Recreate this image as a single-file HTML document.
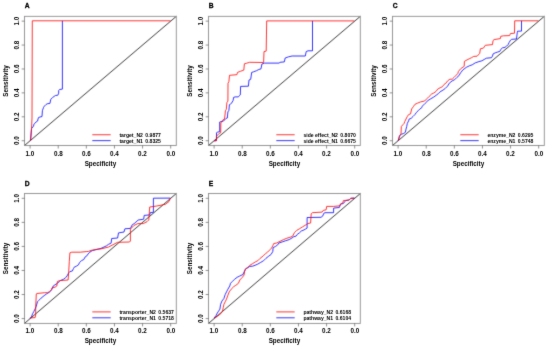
<!DOCTYPE html><html><head><meta charset="utf-8"><style>html,body{margin:0;padding:0;background:#fff;width:550px;height:348px;overflow:hidden}svg{display:block}text{font-family:"Liberation Sans",sans-serif}</style></head><body>
<svg width="550" height="348" viewBox="0 0 550 348">
<defs><filter id="bl" x="0" y="0" width="550" height="348" filterUnits="userSpaceOnUse" color-interpolation-filters="sRGB"><feConvolveMatrix order="3" kernelMatrix="0.0144 0.0912 0.0144 0.0912 0.5776 0.0912 0.0144 0.0912 0.0144" edgeMode="duplicate"/></filter><filter id="id" x="0" y="0" width="550" height="348" filterUnits="userSpaceOnUse" color-interpolation-filters="sRGB"><feConvolveMatrix order="3" kernelMatrix="0.0064 0.0672 0.0064 0.0672 0.7056 0.0672 0.0064 0.0672 0.0064" edgeMode="duplicate"/></filter></defs>
<rect width="550" height="348" fill="#fff"/>
<g filter="url(#bl)">
<g><line x1="24.5" y1="145.5" x2="176.3" y2="16.35" stroke="#333" stroke-width="0.95"/><polyline points="30.2,140.8 30.6,140.2 31.5,128.6 32,128.1 33.5,126.1 34,124.1 35,123.1 36,122 37.6,121 38,119 38.6,117.5 40,117 42,116.5 42.4,110.7 43.5,107.5 44.4,106.1 45.8,104.7 47.2,103.8 50,103.3 50.4,101 50.9,99.2 52.7,97.4 54.1,96.4 55.5,95.5 57.8,95.2 58.7,93.2 58.7,90.4 59.6,89.5 62.4,89.1 62.4,20.8" fill="none" stroke="#0000ff" stroke-width="0.8" stroke-linejoin="miter"/><polyline points="30.2,140.8 30.6,140.2 31.5,128.6 32,118 32.3,20.8 170.5,20.8" fill="none" stroke="#ff0000" stroke-width="0.8" stroke-linejoin="miter"/><rect x="24.5" y="16.35" width="151.8" height="129.15" fill="none" stroke="#8e8e8e" stroke-width="0.9"/><line x1="170.68" y1="145.5" x2="170.68" y2="148.5" stroke="#555" stroke-width="0.65"/><line x1="24.5" y1="140.72" x2="21.7" y2="140.72" stroke="#555" stroke-width="0.65"/><line x1="142.57" y1="145.5" x2="142.57" y2="148.5" stroke="#555" stroke-width="0.65"/><line x1="24.5" y1="116.8" x2="21.7" y2="116.8" stroke="#555" stroke-width="0.65"/><line x1="114.46" y1="145.5" x2="114.46" y2="148.5" stroke="#555" stroke-width="0.65"/><line x1="24.5" y1="92.88" x2="21.7" y2="92.88" stroke="#555" stroke-width="0.65"/><line x1="86.34" y1="145.5" x2="86.34" y2="148.5" stroke="#555" stroke-width="0.65"/><line x1="24.5" y1="68.97" x2="21.7" y2="68.97" stroke="#555" stroke-width="0.65"/><line x1="58.23" y1="145.5" x2="58.23" y2="148.5" stroke="#555" stroke-width="0.65"/><line x1="24.5" y1="45.05" x2="21.7" y2="45.05" stroke="#555" stroke-width="0.65"/><line x1="30.12" y1="145.5" x2="30.12" y2="148.5" stroke="#555" stroke-width="0.65"/><line x1="24.5" y1="21.13" x2="21.7" y2="21.13" stroke="#555" stroke-width="0.65"/><line x1="92.3" y1="134.75" x2="110.7" y2="134.75" stroke="#ff0000" stroke-width="0.8"/><line x1="92.3" y1="140.65" x2="110.7" y2="140.65" stroke="#0000ff" stroke-width="0.8"/></g>
<g><line x1="208.5" y1="145.5" x2="360.3" y2="16.35" stroke="#333" stroke-width="0.95"/><polyline points="214,140.8 216.5,140.5 216.5,132.9 217.3,132.1 219.7,131.7 219.7,122 220.5,121.6 223.3,121.2 226.1,118.4 227.3,118 227.9,111.9 228.9,110.4 229.4,104.7 230.5,104.2 231.5,103.1 233.1,100.5 233.6,97.4 235.1,96.9 238.2,96.9 240.3,94.9 240.6,86.4 248.4,86.2 249,80 250.7,79.3 251.7,72.4 253.6,71.8 256.5,70.7 258.8,69.5 261,68.8 261.9,64 264.5,63.1 279.1,63.1 280,62.3 284.3,61.9 285.2,58 288.6,56.8 292.1,56 305.3,56 306.2,51.6 308,50.8 312.5,50.8 312.5,20.9" fill="none" stroke="#0000ff" stroke-width="0.8" stroke-linejoin="miter"/><polyline points="214,140.8 216.3,140.8 216.5,136.2 217.3,135.4 219.3,133.3 220.7,132.8 220.9,122.5 222.1,121.6 223,119.8 224.5,119.2 225,115 225.4,110.9 226.3,109.3 226.9,102.6 227.9,101.1 228,83.3 228.9,81.6 229.5,75.3 236.9,74.7 237.5,72.4 240.4,71.3 243.8,70.1 244.4,63.8 246.7,63.2 249.6,62.3 263.6,62.5 264,51.6 266.2,51.1 266.7,20.9 354.4,20.9" fill="none" stroke="#ff0000" stroke-width="0.8" stroke-linejoin="miter"/><rect x="208.5" y="16.35" width="151.8" height="129.15" fill="none" stroke="#8e8e8e" stroke-width="0.9"/><line x1="354.68" y1="145.5" x2="354.68" y2="148.5" stroke="#555" stroke-width="0.65"/><line x1="208.5" y1="140.72" x2="205.7" y2="140.72" stroke="#555" stroke-width="0.65"/><line x1="326.57" y1="145.5" x2="326.57" y2="148.5" stroke="#555" stroke-width="0.65"/><line x1="208.5" y1="116.8" x2="205.7" y2="116.8" stroke="#555" stroke-width="0.65"/><line x1="298.46" y1="145.5" x2="298.46" y2="148.5" stroke="#555" stroke-width="0.65"/><line x1="208.5" y1="92.88" x2="205.7" y2="92.88" stroke="#555" stroke-width="0.65"/><line x1="270.34" y1="145.5" x2="270.34" y2="148.5" stroke="#555" stroke-width="0.65"/><line x1="208.5" y1="68.97" x2="205.7" y2="68.97" stroke="#555" stroke-width="0.65"/><line x1="242.23" y1="145.5" x2="242.23" y2="148.5" stroke="#555" stroke-width="0.65"/><line x1="208.5" y1="45.05" x2="205.7" y2="45.05" stroke="#555" stroke-width="0.65"/><line x1="214.12" y1="145.5" x2="214.12" y2="148.5" stroke="#555" stroke-width="0.65"/><line x1="208.5" y1="21.13" x2="205.7" y2="21.13" stroke="#555" stroke-width="0.65"/><line x1="276.3" y1="134.75" x2="294.7" y2="134.75" stroke="#ff0000" stroke-width="0.8"/><line x1="276.3" y1="140.65" x2="294.7" y2="140.65" stroke="#0000ff" stroke-width="0.8"/></g>
<g><line x1="392.5" y1="145.5" x2="544.3" y2="16.35" stroke="#333" stroke-width="0.95"/><polyline points="398,140.8 399.1,138 399.7,136.1 400.3,134.8 401.6,134.2 403.5,133.5 405.4,132.3 406,129.1 406.7,126.6 407.3,123.4 408.6,120.9 409.2,119 411.1,118.4 413,116.5 414.9,114.6 416.2,112.7 418.1,110.8 420,108.9 421.8,107.6 422.3,106.2 425.2,103.3 428,100.5 430.9,98.7 433.8,97 436.1,95.3 438.4,93.6 440.1,91.8 443,90.1 445.3,88.4 447.6,86.1 449.3,83.2 452.2,80.9 454.5,79.8 456.8,77.5 458.9,75.7 460.6,72.8 462.9,69.9 466.2,67.4 469.2,65.9 472.2,64.8 475.2,62.9 478.9,61.6 481.9,60.8 484.1,59.5 486.4,58.2 491.5,57.7 492.5,56 493.1,53.9 495.1,52.9 497.7,52 499.8,51.4 500.8,49.4 502.4,47.9 505,47.3 506.5,46.2 508.1,44.6 509.1,42.5 510.6,40.1 511.7,39.3 516.5,39 517.3,32.2 517.5,31.2 521.5,31.1 521.5,20.8" fill="none" stroke="#0000ff" stroke-width="0.8" stroke-linejoin="miter"/><polyline points="398,140.8 398.4,140.5 399.1,136.7 399.7,135.4 401,134.2 401.3,126.6 402.9,124.7 404.1,123.4 404.8,121.5 406,119 407.3,116.5 408.6,114.6 410.5,113.9 411.7,108.9 413.6,106.3 414.9,104.4 417.4,103.2 420.6,101.9 424.6,101 426.9,98.7 429.2,96.4 431.5,94.1 433.8,93 436.1,91.3 437.8,89 440.1,87.8 442.4,86.7 444.1,84.4 445.9,83.2 447.6,80.9 449.9,79.2 452.2,79.2 453.9,77.5 456.2,75.2 457.9,73.4 458.3,71.6 460.6,68.8 464.2,66.3 464.4,61.4 467,59.9 469.2,58.8 471.5,57.7 473.7,56.4 477.1,56.2 479.7,53.4 480.4,48.8 483.4,48.1 485.3,45.3 492.5,44.6 493,40.6 494.1,39.6 500.3,38.6 500.8,36.3 503.4,35.8 509.6,35.6 510.4,33.6 514.5,33.2 514.7,20.8 538.4,20.8" fill="none" stroke="#ff0000" stroke-width="0.8" stroke-linejoin="miter"/><rect x="392.5" y="16.35" width="151.8" height="129.15" fill="none" stroke="#8e8e8e" stroke-width="0.9"/><line x1="538.68" y1="145.5" x2="538.68" y2="148.5" stroke="#555" stroke-width="0.65"/><line x1="392.5" y1="140.72" x2="389.7" y2="140.72" stroke="#555" stroke-width="0.65"/><line x1="510.57" y1="145.5" x2="510.57" y2="148.5" stroke="#555" stroke-width="0.65"/><line x1="392.5" y1="116.8" x2="389.7" y2="116.8" stroke="#555" stroke-width="0.65"/><line x1="482.46" y1="145.5" x2="482.46" y2="148.5" stroke="#555" stroke-width="0.65"/><line x1="392.5" y1="92.88" x2="389.7" y2="92.88" stroke="#555" stroke-width="0.65"/><line x1="454.34" y1="145.5" x2="454.34" y2="148.5" stroke="#555" stroke-width="0.65"/><line x1="392.5" y1="68.97" x2="389.7" y2="68.97" stroke="#555" stroke-width="0.65"/><line x1="426.23" y1="145.5" x2="426.23" y2="148.5" stroke="#555" stroke-width="0.65"/><line x1="392.5" y1="45.05" x2="389.7" y2="45.05" stroke="#555" stroke-width="0.65"/><line x1="398.12" y1="145.5" x2="398.12" y2="148.5" stroke="#555" stroke-width="0.65"/><line x1="392.5" y1="21.13" x2="389.7" y2="21.13" stroke="#555" stroke-width="0.65"/><line x1="460.3" y1="134.75" x2="478.7" y2="134.75" stroke="#ff0000" stroke-width="0.8"/><line x1="460.3" y1="140.65" x2="478.7" y2="140.65" stroke="#0000ff" stroke-width="0.8"/></g>
<g><line x1="24.5" y1="323.4" x2="176.3" y2="193.5" stroke="#333" stroke-width="0.95"/><polyline points="30,318.4 31.4,316.8 32.6,313.8 33.9,311.4 35.1,309 36.3,306 37.5,301.7 38.7,300.5 41.1,298.1 44.1,295.7 46.5,293.9 49.5,292.1 50.8,290.9 52,289.1 53.2,286 55,284.8 57.8,283 60.2,280.6 63.3,279.4 65.7,277.6 67.5,275.2 68.7,272.8 69.9,271.6 72.3,271 73.5,268.5 74.1,267.3 76.5,266.1 78.4,264.9 79.6,262.5 81.4,260.7 83.8,259.5 85,257.1 86.8,255.9 88,254 89.8,252.2 92.3,250.6 101,248.4 106.5,245.8 108.4,244.4 111.1,243.1 111.7,238.5 117.6,238 118.5,232.9 124,232 124.9,228.8 130.4,228.4 132.3,224.7 134.1,223.7 138.2,220 143.7,219.2 144.2,215.4 149.7,214.9 150.3,212.6 153.4,212.3 153.4,198.2 170.4,198.1" fill="none" stroke="#0000ff" stroke-width="0.8" stroke-linejoin="miter"/><polyline points="30,318 35.1,317.6 35.7,315 35.7,306.6 36.3,293.9 36.9,293.5 44.7,292.7 47.7,292.7 49.5,291.5 51.4,289.7 52,287.9 55,287.2 56.8,286 57.4,281.5 59.6,280.6 63.3,280.4 68.1,280 68.7,272.2 69.3,261.3 69.9,252.8 71.7,252.2 80.2,252.2 86.2,251.6 88.6,251.4 91,250.4 96.6,249.3 101,248.9 108.4,247.1 113,244.7 117.6,242.3 129.5,242 130.4,241 130.4,229.1 134.1,225.4 137.8,223.6 143.3,223.6 147,221.7 148.8,219.9 149.7,207 156.2,206.1 165.4,204.3 169,201.5 170.4,198.1" fill="none" stroke="#ff0000" stroke-width="0.8" stroke-linejoin="miter"/><rect x="24.5" y="193.5" width="151.8" height="129.9" fill="none" stroke="#8e8e8e" stroke-width="0.9"/><line x1="170.68" y1="323.4" x2="170.68" y2="326.4" stroke="#555" stroke-width="0.65"/><line x1="24.5" y1="318.59" x2="21.7" y2="318.59" stroke="#555" stroke-width="0.65"/><line x1="142.57" y1="323.4" x2="142.57" y2="326.4" stroke="#555" stroke-width="0.65"/><line x1="24.5" y1="294.53" x2="21.7" y2="294.53" stroke="#555" stroke-width="0.65"/><line x1="114.46" y1="323.4" x2="114.46" y2="326.4" stroke="#555" stroke-width="0.65"/><line x1="24.5" y1="270.48" x2="21.7" y2="270.48" stroke="#555" stroke-width="0.65"/><line x1="86.34" y1="323.4" x2="86.34" y2="326.4" stroke="#555" stroke-width="0.65"/><line x1="24.5" y1="246.42" x2="21.7" y2="246.42" stroke="#555" stroke-width="0.65"/><line x1="58.23" y1="323.4" x2="58.23" y2="326.4" stroke="#555" stroke-width="0.65"/><line x1="24.5" y1="222.37" x2="21.7" y2="222.37" stroke="#555" stroke-width="0.65"/><line x1="30.12" y1="323.4" x2="30.12" y2="326.4" stroke="#555" stroke-width="0.65"/><line x1="24.5" y1="198.31" x2="21.7" y2="198.31" stroke="#555" stroke-width="0.65"/><line x1="92.3" y1="311.9" x2="110.7" y2="311.9" stroke="#ff0000" stroke-width="0.8"/><line x1="92.3" y1="317.8" x2="110.7" y2="317.8" stroke="#0000ff" stroke-width="0.8"/></g>
<g><line x1="208.5" y1="323.4" x2="360.3" y2="193.5" stroke="#333" stroke-width="0.95"/><polyline points="214,318.1 216,315.7 217.3,313 218.6,311.1 219.9,309.1 220.6,304.4 221.9,301.1 223.9,298.5 225.2,294.5 226.5,291.9 227.9,289.2 229.8,285.9 230.5,283.3 232.5,281.3 234.5,279.3 237.1,277.3 239.4,276.2 242.9,274.5 244.6,271 245.8,268.7 248.1,267.6 249.8,266.4 252.7,266.2 255,265.3 257.8,264.1 260.7,262.4 263.6,260.7 265.9,258.4 268.8,256.1 271.1,254.4 272.8,251.5 273.1,247.6 275.4,246.5 277.7,244.8 278.9,243 282.3,241.9 285.8,240.7 289.2,239.6 292.1,237.9 293.8,236.7 296.1,236.1 297.3,234.4 299.6,232.7 301.3,231 303,230.4 305.3,229.2 307.1,228.1 307.1,217.5 321,217.3 322.7,216.1 323.8,213.3 325,212.7 333.6,212.7 333.6,208.1 339.3,207.5 340.5,204.1 343.4,203.5 345.1,201.3 345.7,200.6 349.1,200 350.8,198.3 354.4,198.1" fill="none" stroke="#0000ff" stroke-width="0.8" stroke-linejoin="miter"/><polyline points="214,318.1 215.3,317.7 217.3,316.3 219.3,315 221.2,313 222.6,311.1 223.2,307.7 223.9,304.4 225.2,301.8 226.5,299.1 227.9,295.2 229.2,291.9 231.2,289.2 233.8,286.6 235.8,285.3 238.4,283.3 239.8,280 241.7,278 242.3,277.4 244,275.1 244.6,271.6 245.2,269.3 247.5,267.6 249.8,265.3 252.7,263.6 255.5,261.8 257.8,260.7 260.1,258.4 263,256.1 265.3,253.8 267.6,252.1 269.9,249.8 271.6,248 272.8,245.7 273.7,243.6 276.6,243 280,241.3 283.5,239.6 286.9,238.2 290.4,237.1 292.7,236.1 294.4,232.7 296.7,230.4 299.6,228.7 302.5,226.9 305.3,225.2 307.7,223.6 310.6,223 311.2,213.8 312.3,212.7 322.1,212.1 323.2,210.4 326.1,209.8 326.7,206.4 333.6,206.4 339.9,205.8 340.5,204.1 342.8,202.9 343.4,200.6 349.1,200 350.8,198.3 354.4,198.1" fill="none" stroke="#ff0000" stroke-width="0.8" stroke-linejoin="miter"/><rect x="208.5" y="193.5" width="151.8" height="129.9" fill="none" stroke="#8e8e8e" stroke-width="0.9"/><line x1="354.68" y1="323.4" x2="354.68" y2="326.4" stroke="#555" stroke-width="0.65"/><line x1="208.5" y1="318.59" x2="205.7" y2="318.59" stroke="#555" stroke-width="0.65"/><line x1="326.57" y1="323.4" x2="326.57" y2="326.4" stroke="#555" stroke-width="0.65"/><line x1="208.5" y1="294.53" x2="205.7" y2="294.53" stroke="#555" stroke-width="0.65"/><line x1="298.46" y1="323.4" x2="298.46" y2="326.4" stroke="#555" stroke-width="0.65"/><line x1="208.5" y1="270.48" x2="205.7" y2="270.48" stroke="#555" stroke-width="0.65"/><line x1="270.34" y1="323.4" x2="270.34" y2="326.4" stroke="#555" stroke-width="0.65"/><line x1="208.5" y1="246.42" x2="205.7" y2="246.42" stroke="#555" stroke-width="0.65"/><line x1="242.23" y1="323.4" x2="242.23" y2="326.4" stroke="#555" stroke-width="0.65"/><line x1="208.5" y1="222.37" x2="205.7" y2="222.37" stroke="#555" stroke-width="0.65"/><line x1="214.12" y1="323.4" x2="214.12" y2="326.4" stroke="#555" stroke-width="0.65"/><line x1="208.5" y1="198.31" x2="205.7" y2="198.31" stroke="#555" stroke-width="0.65"/><line x1="276.3" y1="311.9" x2="294.7" y2="311.9" stroke="#ff0000" stroke-width="0.8"/><line x1="276.3" y1="317.8" x2="294.7" y2="317.8" stroke="#0000ff" stroke-width="0.8"/></g>
</g>
<g filter="url(#id)"><text x="166.5" y="155.5" font-size="6.3" font-weight="bold" fill="#000">0.0</text><text transform="translate(18.6,140.72) rotate(-90)" font-size="6.3" font-weight="bold" text-anchor="middle" fill="#000">0.0</text><text x="138" y="155.5" font-size="6.3" font-weight="bold" fill="#000">0.2</text><text transform="translate(18.6,116.8) rotate(-90)" font-size="6.3" font-weight="bold" text-anchor="middle" fill="#000">0.2</text><text x="110" y="155.5" font-size="6.3" font-weight="bold" fill="#000">0.4</text><text transform="translate(18.6,92.88) rotate(-90)" font-size="6.3" font-weight="bold" text-anchor="middle" fill="#000">0.4</text><text x="82" y="155.5" font-size="6.3" font-weight="bold" fill="#000">0.6</text><text transform="translate(18.6,68.97) rotate(-90)" font-size="6.3" font-weight="bold" text-anchor="middle" fill="#000">0.6</text><text x="54" y="155.5" font-size="6.3" font-weight="bold" fill="#000">0.8</text><text transform="translate(18.6,45.05) rotate(-90)" font-size="6.3" font-weight="bold" text-anchor="middle" fill="#000">0.8</text><text x="25.5" y="155.5" font-size="6.3" font-weight="bold" fill="#000">1.0</text><text transform="translate(18.6,21.13) rotate(-90)" font-size="6.3" font-weight="bold" text-anchor="middle" fill="#000">1.0</text><text x="100.4" y="165.8" font-size="6.3" font-weight="bold" text-anchor="middle" fill="#000">Specificity</text><text transform="translate(8.1,80.92) rotate(-90)" font-size="6.3" font-weight="bold" text-anchor="middle" fill="#000">Sensitivity</text><text x="24.7" y="7.85" font-size="6.7" font-weight="bold" fill="#000" stroke="#000" stroke-width="0.3">A</text><text x="119.4" y="137.15" font-size="5.1" font-weight="bold" fill="#000" xml:space="preserve">target_N2 <tspan dx="1.0">0.9877</tspan></text><text x="119.4" y="143.05" font-size="5.1" font-weight="bold" fill="#000" xml:space="preserve">target_N1 <tspan dx="1.0">0.8325</tspan></text><text x="350.5" y="155.5" font-size="6.3" font-weight="bold" fill="#000">0.0</text><text transform="translate(202.6,140.72) rotate(-90)" font-size="6.3" font-weight="bold" text-anchor="middle" fill="#000">0.0</text><text x="322" y="155.5" font-size="6.3" font-weight="bold" fill="#000">0.2</text><text transform="translate(202.6,116.8) rotate(-90)" font-size="6.3" font-weight="bold" text-anchor="middle" fill="#000">0.2</text><text x="294" y="155.5" font-size="6.3" font-weight="bold" fill="#000">0.4</text><text transform="translate(202.6,92.88) rotate(-90)" font-size="6.3" font-weight="bold" text-anchor="middle" fill="#000">0.4</text><text x="266" y="155.5" font-size="6.3" font-weight="bold" fill="#000">0.6</text><text transform="translate(202.6,68.97) rotate(-90)" font-size="6.3" font-weight="bold" text-anchor="middle" fill="#000">0.6</text><text x="238" y="155.5" font-size="6.3" font-weight="bold" fill="#000">0.8</text><text transform="translate(202.6,45.05) rotate(-90)" font-size="6.3" font-weight="bold" text-anchor="middle" fill="#000">0.8</text><text x="209.5" y="155.5" font-size="6.3" font-weight="bold" fill="#000">1.0</text><text transform="translate(202.6,21.13) rotate(-90)" font-size="6.3" font-weight="bold" text-anchor="middle" fill="#000">1.0</text><text x="284.4" y="165.8" font-size="6.3" font-weight="bold" text-anchor="middle" fill="#000">Specificity</text><text transform="translate(192.1,80.92) rotate(-90)" font-size="6.3" font-weight="bold" text-anchor="middle" fill="#000">Sensitivity</text><text x="208.7" y="7.85" font-size="6.7" font-weight="bold" fill="#000" stroke="#000" stroke-width="0.3">B</text><text x="303.4" y="137.15" font-size="5.1" font-weight="bold" fill="#000" xml:space="preserve">side effect_N2 <tspan dx="1.0">0.8070</tspan></text><text x="303.4" y="143.05" font-size="5.1" font-weight="bold" fill="#000" xml:space="preserve">side effect_N1 <tspan dx="1.0">0.6675</tspan></text><text x="534.5" y="155.5" font-size="6.3" font-weight="bold" fill="#000">0.0</text><text transform="translate(386.6,140.72) rotate(-90)" font-size="6.3" font-weight="bold" text-anchor="middle" fill="#000">0.0</text><text x="506" y="155.5" font-size="6.3" font-weight="bold" fill="#000">0.2</text><text transform="translate(386.6,116.8) rotate(-90)" font-size="6.3" font-weight="bold" text-anchor="middle" fill="#000">0.2</text><text x="478" y="155.5" font-size="6.3" font-weight="bold" fill="#000">0.4</text><text transform="translate(386.6,92.88) rotate(-90)" font-size="6.3" font-weight="bold" text-anchor="middle" fill="#000">0.4</text><text x="450" y="155.5" font-size="6.3" font-weight="bold" fill="#000">0.6</text><text transform="translate(386.6,68.97) rotate(-90)" font-size="6.3" font-weight="bold" text-anchor="middle" fill="#000">0.6</text><text x="422" y="155.5" font-size="6.3" font-weight="bold" fill="#000">0.8</text><text transform="translate(386.6,45.05) rotate(-90)" font-size="6.3" font-weight="bold" text-anchor="middle" fill="#000">0.8</text><text x="393.5" y="155.5" font-size="6.3" font-weight="bold" fill="#000">1.0</text><text transform="translate(386.6,21.13) rotate(-90)" font-size="6.3" font-weight="bold" text-anchor="middle" fill="#000">1.0</text><text x="468.4" y="165.8" font-size="6.3" font-weight="bold" text-anchor="middle" fill="#000">Specificity</text><text transform="translate(376.1,80.92) rotate(-90)" font-size="6.3" font-weight="bold" text-anchor="middle" fill="#000">Sensitivity</text><text x="392.7" y="7.85" font-size="6.7" font-weight="bold" fill="#000" stroke="#000" stroke-width="0.3">C</text><text x="487.4" y="137.15" font-size="5.1" font-weight="bold" fill="#000" xml:space="preserve">enzyme_N2 <tspan dx="1.0">0.6295</tspan></text><text x="487.4" y="143.05" font-size="5.1" font-weight="bold" fill="#000" xml:space="preserve">enzyme_N1 <tspan dx="1.0">0.5748</tspan></text><text x="166.5" y="333.4" font-size="6.3" font-weight="bold" fill="#000">0.0</text><text transform="translate(18.6,318.59) rotate(-90)" font-size="6.3" font-weight="bold" text-anchor="middle" fill="#000">0.0</text><text x="138" y="333.4" font-size="6.3" font-weight="bold" fill="#000">0.2</text><text transform="translate(18.6,294.53) rotate(-90)" font-size="6.3" font-weight="bold" text-anchor="middle" fill="#000">0.2</text><text x="110" y="333.4" font-size="6.3" font-weight="bold" fill="#000">0.4</text><text transform="translate(18.6,270.48) rotate(-90)" font-size="6.3" font-weight="bold" text-anchor="middle" fill="#000">0.4</text><text x="82" y="333.4" font-size="6.3" font-weight="bold" fill="#000">0.6</text><text transform="translate(18.6,246.42) rotate(-90)" font-size="6.3" font-weight="bold" text-anchor="middle" fill="#000">0.6</text><text x="54" y="333.4" font-size="6.3" font-weight="bold" fill="#000">0.8</text><text transform="translate(18.6,222.37) rotate(-90)" font-size="6.3" font-weight="bold" text-anchor="middle" fill="#000">0.8</text><text x="25.5" y="333.4" font-size="6.3" font-weight="bold" fill="#000">1.0</text><text transform="translate(18.6,198.31) rotate(-90)" font-size="6.3" font-weight="bold" text-anchor="middle" fill="#000">1.0</text><text x="100.4" y="342.7" font-size="6.3" font-weight="bold" text-anchor="middle" fill="#000">Specificity</text><text transform="translate(8.1,258.45) rotate(-90)" font-size="6.3" font-weight="bold" text-anchor="middle" fill="#000">Sensitivity</text><text x="24.7" y="185.6" font-size="6.7" font-weight="bold" fill="#000" stroke="#000" stroke-width="0.3">D</text><text x="119.4" y="314.3" font-size="5.1" font-weight="bold" fill="#000" xml:space="preserve">transporter_N2 <tspan dx="1.0">0.5637</tspan></text><text x="119.4" y="320.2" font-size="5.1" font-weight="bold" fill="#000" xml:space="preserve">transporter_N1 <tspan dx="1.0">0.5718</tspan></text><text x="350.5" y="333.4" font-size="6.3" font-weight="bold" fill="#000">0.0</text><text transform="translate(202.6,318.59) rotate(-90)" font-size="6.3" font-weight="bold" text-anchor="middle" fill="#000">0.0</text><text x="322" y="333.4" font-size="6.3" font-weight="bold" fill="#000">0.2</text><text transform="translate(202.6,294.53) rotate(-90)" font-size="6.3" font-weight="bold" text-anchor="middle" fill="#000">0.2</text><text x="294" y="333.4" font-size="6.3" font-weight="bold" fill="#000">0.4</text><text transform="translate(202.6,270.48) rotate(-90)" font-size="6.3" font-weight="bold" text-anchor="middle" fill="#000">0.4</text><text x="266" y="333.4" font-size="6.3" font-weight="bold" fill="#000">0.6</text><text transform="translate(202.6,246.42) rotate(-90)" font-size="6.3" font-weight="bold" text-anchor="middle" fill="#000">0.6</text><text x="238" y="333.4" font-size="6.3" font-weight="bold" fill="#000">0.8</text><text transform="translate(202.6,222.37) rotate(-90)" font-size="6.3" font-weight="bold" text-anchor="middle" fill="#000">0.8</text><text x="209.5" y="333.4" font-size="6.3" font-weight="bold" fill="#000">1.0</text><text transform="translate(202.6,198.31) rotate(-90)" font-size="6.3" font-weight="bold" text-anchor="middle" fill="#000">1.0</text><text x="284.4" y="342.7" font-size="6.3" font-weight="bold" text-anchor="middle" fill="#000">Specificity</text><text transform="translate(192.1,258.45) rotate(-90)" font-size="6.3" font-weight="bold" text-anchor="middle" fill="#000">Sensitivity</text><text x="208.7" y="185.6" font-size="6.7" font-weight="bold" fill="#000" stroke="#000" stroke-width="0.3">E</text><text x="303.4" y="314.3" font-size="5.1" font-weight="bold" fill="#000" xml:space="preserve">pathway_N2 <tspan dx="1.0">0.6168</tspan></text><text x="303.4" y="320.2" font-size="5.1" font-weight="bold" fill="#000" xml:space="preserve">pathway_N1 <tspan dx="1.0">0.6104</tspan></text></g>
</svg></body></html>
